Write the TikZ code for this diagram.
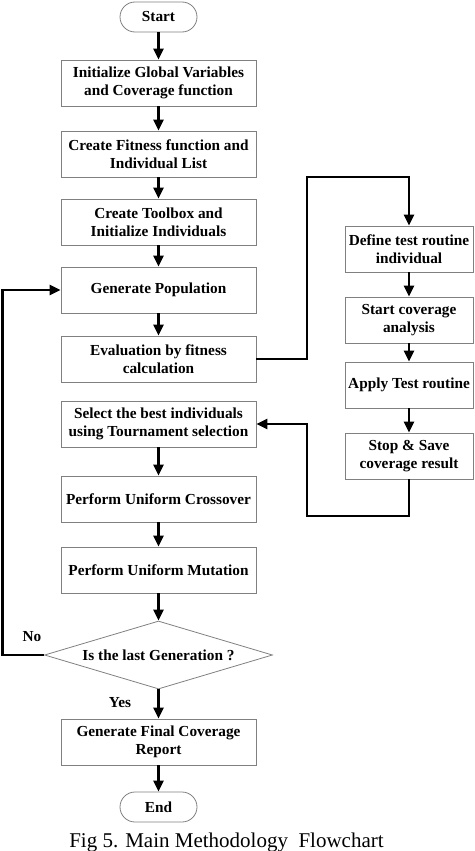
\documentclass[tikz,border=0pt]{standalone}
\usepackage{fontspec}
\setmainfont{Liberation Serif}
\usetikzlibrary{shapes.geometric, arrows.meta, positioning}

\begin{document}
\begin{tikzpicture}[x=1pt, y=-1pt,
  font=\fontsize{15.3}{18}\selectfont\bfseries,
  procbox/.style={draw=gray, line width=0.8pt, minimum width=195pt, minimum height=46pt, align=center, inner sep=2pt},
  testbox/.style={procbox, minimum width=128pt},
  termbox/.style={draw=gray, line width=0.8pt, rounded corners=15pt, minimum width=77pt, minimum height=30pt},
  decbox/.style={draw=gray, line width=0.8pt, diamond, aspect=3.35, minimum width=228pt, minimum height=68pt, inner sep=0pt},
  flow/.style={-{Triangle[length=11pt,width=10pt]}, line width=2.4pt}]
\useasboundingbox (0,0) rectangle (474,851);
% main column
\node[termbox] (start) at (158.5,17) {Start};
\node[procbox] (init) at (158.5,83) {Initialize Global Variables\\and Coverage function};
\node[procbox] (fitfn) at (158.5,154) {Create Fitness function and\\Individual List};
\node[procbox] (toolbox) at (158.5,222) {Create Toolbox and\\Initialize Individuals};
\node[procbox] (genpop) at (158.5,290) {Generate Population};
\node[procbox] (evalfit) at (158.5,359) {Evaluation by fitness\\calculation};
\node[procbox] (select) at (158.5,424) {Select the best individuals\\using Tournament selection};
\node[procbox] (cross) at (158.5,499) {Perform Uniform Crossover};
\node[procbox] (mutate) at (158.5,570) {Perform Uniform Mutation};
\node[decbox] (lastgen) at (158.5,655) {Is the last Generation ?};
\node[procbox] (report) at (158.5,742) {Generate Final Coverage\\Report};
\node[termbox] (end) at (158.5,807) {End};
% test routine column
\node[testbox] (define) at (409,249) {Define test routine\\individual};
\node[testbox] (startcov) at (409,320) {Start coverage\\analysis};
\node[testbox] (apply) at (409,385) {Apply Test routine};
\node[testbox] (stopsave) at (409,456) {Stop \& Save\\coverage result};
\foreach \a/\b in {start/init, init/fitfn, fitfn/toolbox, toolbox/genpop, genpop/evalfit, select/cross, cross/mutate, mutate/lastgen, lastgen/report, report/end, define/startcov, startcov/apply, apply/stopsave}
  \draw[flow] (\a) -- (\b);
% loops
\coordinate (outturn) at (307,177);
\coordinate (backturn) at (307,516);
\coordinate (noturn) at (2.5,655);
\draw[flow] (evalfit.east) -| (outturn) -| (define.north);
\draw[flow] (stopsave.south) |- (backturn) |- (select.east);
\draw[flow] (lastgen.west) -- (noturn) |- (genpop.west);
\node (nolabel) at (32,637) {No};
\node (yeslabel) at (120,703) {Yes};
\node[font=\fontsize{21}{25}\selectfont, anchor=base] (caption) at (226.5,847) {Fig 5. Main Methodology\ \ Flowchart};
\end{tikzpicture}
\end{document}
